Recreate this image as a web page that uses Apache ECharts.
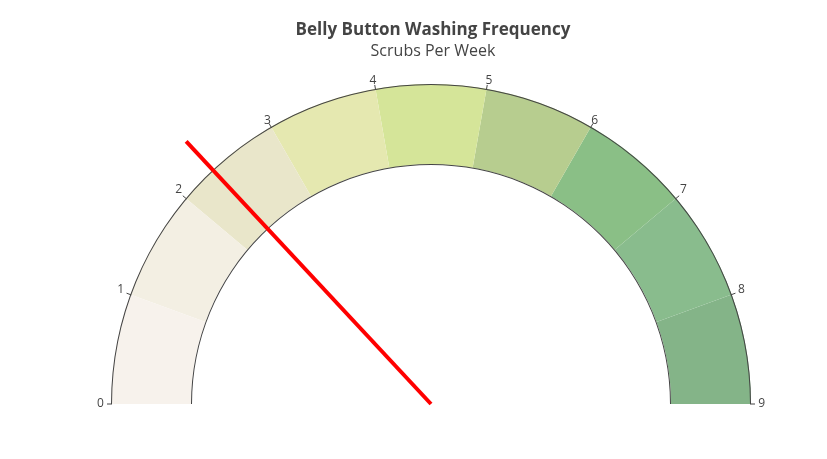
<!DOCTYPE html>
<html><head><meta charset="utf-8">
<script src="https://cdn.jsdelivr.net/npm/echarts@6/dist/echarts.min.js"></script>
<style>html,body{margin:0;background:#fff}#main{width:827px;height:459px}</style>
</head><body><div id="main"></div>
<script>
var gaugeMin = 0, gaugeMax = 9;
var scrubsValue = 2.35;
var bandColors = ['#F7F2EC','#F3EFE3','#E9E6CA','#E5E8B0','#D5E599','#B7CD8F','#8ABF86','#89BC8D','#84B488'];

var chart = echarts.init(document.getElementById('main'));
var stops = bandColors.map(function (c, i) { return [(i + 1) / bandColors.length, c]; });
var base = {
    type: 'gauge', center: [431, 404], startAngle: 180, endAngle: 0,
    min: gaugeMin, max: gaugeMax, splitNumber: 9,
    axisTick: {show: false}, splitLine: {show: false}, axisLabel: {show: false},
    pointer: {show: false}, anchor: {show: false}, title: {show: false}, detail: {show: false},
    animation: false
};
chart.setOption({
    title: {
        text: 'Belly Button Washing Frequency', subtext: 'Scrubs Per Week',
        left: 428, top: 17, textAlign: 'center', itemGap: 4,
        textStyle: {fontFamily: 'Open Sans', fontSize: 17, fontWeight: 'bold', color: '#444'},
        subtextStyle: {fontFamily: 'Open Sans', fontSize: 16, color: '#444'}
    },
    series: [
        Object.assign({}, base, {
            radius: 320,
            axisLine: {lineStyle: {width: 80, color: stops}}
        }),
        Object.assign({}, base, {
            radius: 320,
            axisLine: {lineStyle: {width: 1, color: [[1, '#444']]}},
            splitLine: {show: true, length: 5, distance: -5, lineStyle: {color: '#444', width: 1}},
            axisLabel: {show: true, distance: -14, color: '#444', fontSize: 12, fontFamily: 'Open Sans'}
        }),
        Object.assign({}, base, {
            radius: 240,
            axisLine: {lineStyle: {width: 1, color: [[1, '#444']]}}
        }),
        Object.assign({}, base, {
            radius: 320,
            axisLine: {show: false},
            pointer: {show: true, icon: 'rect', length: 359, width: 4, offsetCenter: [0, 0], itemStyle: {color: '#ff0000'}},
            data: [{value: scrubsValue}]
        })
    ]
});
</script></body></html>
